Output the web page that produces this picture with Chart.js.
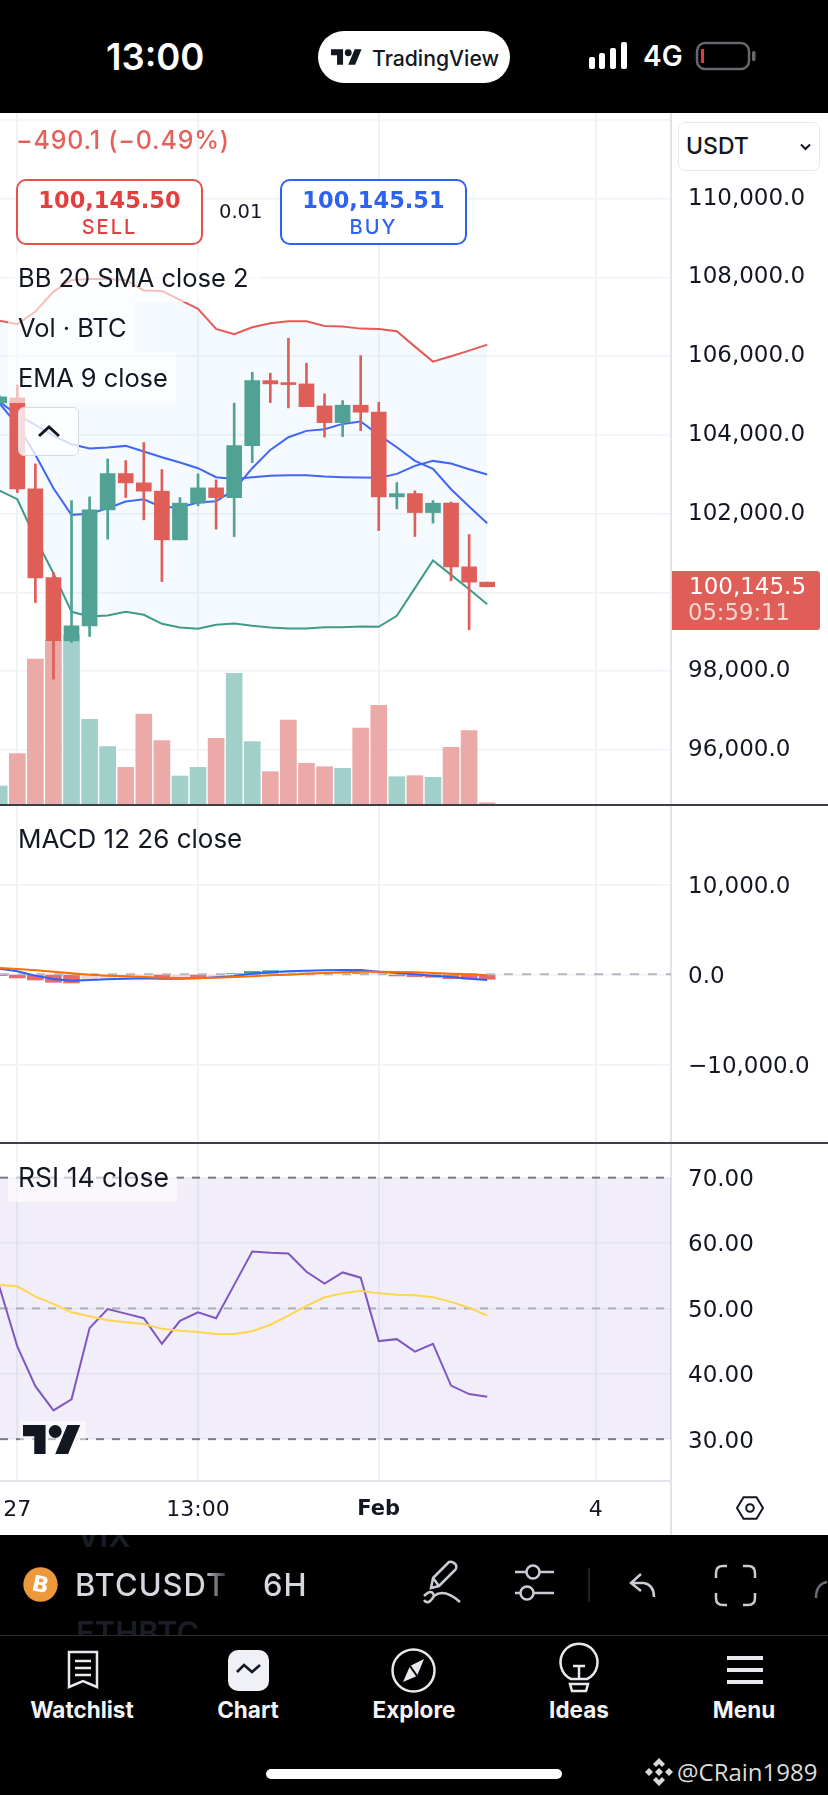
<!DOCTYPE html>
<html>
<head>
<meta charset="utf-8">
<title>BTCUSDT 6H</title>
<script src="https://cdn.jsdelivr.net/npm/chart.js@4/dist/chart.umd.min.js"></script>
<style>
  html, body { margin: 0; padding: 0; background: #000; }
  #page { position: relative; width: 828px; height: 1795px; overflow: hidden; background: #000; font-family: Inter, sans-serif; }
  #white { position: absolute; left: 0; top: 113px; width: 828px; height: 1422px; background: #fff; }
  canvas { position: absolute; left: 0; display: block; }
  .t { position: absolute; white-space: nowrap; color: #131722; }
  .box { position: absolute; box-sizing: border-box; }
  svg { position: absolute; overflow: visible; }
  .num { font-family: "DejaVu Sans", sans-serif; }
</style>
</head>
<body>
<div id="page">
  <div class="t" style="left:77px;top:1516px;line-height:40px;font-size:31px;font-weight:600;color:#1a1d26">VIX</div>
  <div id="white"></div>
  <canvas id="price-chart" width="828" height="692" style="top:113px"></canvas>
  <canvas id="macd-chart" width="828" height="338" style="top:805px"></canvas>
  <canvas id="rsi-chart" width="828" height="392" style="top:1143px"></canvas>

  <div class="box" style="left:0;top:804px;width:828px;height:2px;background:#3c3f47"></div>
  <div class="box" style="left:0;top:1142px;width:828px;height:2px;background:#3c3f47"></div>
  <div class="box" style="left:670px;top:1481px;width:2px;height:54px;background:#e0e3eb"></div>

  <!-- status bar -->
  <div class="t" style="left:106px;top:36px;line-height:42px;font-size:36.5px;font-weight:600;color:#fff">13:00</div>
  <div class="box" style="left:318px;top:31px;width:192px;height:52px;border-radius:26px;background:#fff"></div>
  <svg style="left:331px;top:49px" width="31" height="16" viewBox="0 4 36 18"><path d="M14 22H7V11H0V4h14v18zM28 22h-8l7.5-18h8L28 22z" fill="#131722"/><circle cx="20" cy="8" r="4" fill="#131722"/></svg>
  <div class="t" style="left:372px;top:42px;line-height:32px;font-size:21.2px;font-weight:500">TradingView</div>
  <svg style="left:589px;top:42px" width="40" height="28"><rect x="0" y="15" width="6" height="12" rx="2" fill="#fff"/><rect x="10" y="11" width="6" height="16" rx="2" fill="#fff"/><rect x="21" y="6" width="6" height="21" rx="2" fill="#fff"/><rect x="32" y="0" width="6" height="27" rx="2" fill="#fff"/></svg>
  <div class="t" style="left:643px;top:38px;line-height:36px;font-size:28px;font-weight:600;color:#fff">4G</div>
  <svg style="left:696px;top:42px" width="60" height="28"><rect x="1" y="1" width="52" height="26" rx="8" fill="none" stroke="#66686e" stroke-width="2.5"/><rect x="5" y="7" width="3" height="14" fill="#e8383d"/><rect x="56" y="9" width="3.5" height="10" rx="1.5" fill="#66686e"/></svg>

  <!-- header over the price pane -->
  <div class="t" style="left:16px;top:124px;line-height:32px;font-size:25px;font-weight:500;letter-spacing:.8px;color:#e5605a">−490.1 (−0.49%)</div>
  <div class="box" style="left:16px;top:179px;width:187px;height:66px;border:2px solid #e4504c;border-radius:10px;background:#fff"></div>
  <div class="t num" style="left:16px;top:185px;width:187px;text-align:center;line-height:30px;font-size:22.5px;font-weight:700;color:#e2403e">100,145.50</div>
  <div class="t" style="left:16px;top:214px;width:187px;text-align:center;line-height:26px;font-size:20px;font-weight:500;letter-spacing:2px;color:#e2403e">SELL</div>
  <div class="t num" style="left:219px;top:198px;line-height:28px;font-size:19.5px">0.01</div>
  <div class="box" style="left:280px;top:179px;width:187px;height:66px;border:2px solid #2e62f0;border-radius:10px;background:#fff"></div>
  <div class="t num" style="left:280px;top:185px;width:187px;text-align:center;line-height:30px;font-size:22.5px;font-weight:700;color:#2e62f0">100,145.51</div>
  <div class="t" style="left:280px;top:214px;width:187px;text-align:center;line-height:26px;font-size:20px;font-weight:500;letter-spacing:2px;color:#2e62f0">BUY</div>

  <!-- indicator titles -->
  <div class="box" style="left:8px;top:252px;width:252px;height:50px;background:rgba(255,255,255,.6)"></div>
  <div class="box" style="left:8px;top:302px;width:127px;height:50px;background:rgba(255,255,255,.6)"></div>
  <div class="box" style="left:8px;top:352px;width:168px;height:51px;background:rgba(255,255,255,.6)"></div>
  <div class="t" style="left:18px;top:262px;line-height:32px;font-size:25.5px">BB 20 SMA close 2</div>
  <div class="t" style="left:18px;top:312px;line-height:32px;font-size:25.4px">Vol · BTC</div>
  <div class="t" style="left:18px;top:362px;line-height:32px;font-size:25.4px">EMA 9 close</div>
  <div class="box" style="left:18px;top:407px;width:61px;height:49px;border:1.5px solid #d6d8de;border-radius:6px;background:rgba(255,255,255,.78)"></div>
  <svg style="left:37px;top:425px" width="24" height="14"><path d="M2 11 L12 2 L22 11" fill="none" stroke="#131722" stroke-width="3"/></svg>
  <div class="t" style="left:18px;top:823px;line-height:32px;font-size:26px">MACD 12 26 close</div>
  <div class="box" style="left:8px;top:1163px;width:169px;height:39px;background:rgba(255,255,255,.6)"></div>
  <div class="t" style="left:18px;top:1161px;line-height:32px;font-size:26.5px">RSI 14 close</div>
  <div class="box" style="left:20px;top:1421px;width:66px;height:34px;background:rgba(255,255,255,.5)"></div>
  <svg style="left:23px;top:1425px" width="58" height="29" viewBox="0 4 36 18"><path d="M14 22H7V11H0V4h14v18zM28 22h-8l7.5-18h8L28 22z" fill="#131722"/><circle cx="20" cy="8" r="4" fill="#131722"/></svg>

  <!-- right axis widgets -->
  <div class="box" style="left:678px;top:122px;width:142px;height:49px;border:1.5px solid #e6e8ef;border-radius:7px;background:#fff"></div>
  <div class="t" style="left:686px;top:130px;line-height:32px;font-size:23px;font-weight:500">USDT</div>
  <svg style="left:800px;top:143px" width="11" height="8"><path d="M1 1.5 L5.5 6 L10 1.5" fill="none" stroke="#131722" stroke-width="2"/></svg>
  <div class="box" style="left:672px;top:571px;width:148px;height:59px;border-radius:0 3px 3px 0;background:#e05e58"></div>
  <div class="t num" style="left:689px;top:571px;line-height:30px;font-size:23px;color:#fff">100,145.5</div>
  <div class="t num" style="left:688px;top:598px;line-height:28px;font-size:22.7px;color:#f6d5d2">05:59:11</div>
  <svg style="left:736px;top:1496px" width="28" height="24"><path d="M1 12 L7.5 1.2 H20.5 L27 12 L20.5 22.8 H7.5 Z" fill="none" stroke="#131722" stroke-width="2"/><circle cx="14" cy="12" r="3.8" fill="none" stroke="#131722" stroke-width="2"/></svg>

  <!-- symbol bar -->
  <svg style="left:23px;top:1567px" width="35" height="35"><circle cx="17.5" cy="17.5" r="17.2" fill="#ee983c"/><text x="17.5" y="25" text-anchor="middle" font-family="DejaVu Sans" font-weight="700" font-size="22" fill="#fff" transform="rotate(12 17.5 17.5)">B</text></svg>
  <div class="t" style="left:75px;top:1565px;line-height:40px;font-size:31px;font-weight:500;letter-spacing:1px;color:transparent;background:linear-gradient(90deg,#d6d8df 84%,#2a2a2e 100%);-webkit-background-clip:text;background-clip:text">BTCUSDT</div>
  <div class="t" style="left:263px;top:1565px;line-height:40px;font-size:31px;font-weight:500;letter-spacing:1px;color:#d6d8df">6H</div>
  <div class="t" style="left:76px;top:1613px;line-height:40px;font-size:31px;font-weight:600;color:#1a1d26">ETHBTC</div>
  <svg style="left:420px;top:1560px" width="230" height="50" fill="none" stroke="#c9ccd4" stroke-width="2.5">
    <path d="M13 18 L29 2 Q33 1 36 5 Q37 8 35 10 L19 26 L11 28 Z M13 18 L19 26"/>
    <path d="M4 36 Q12 28 14 36 Q8 46 4 40 M14 36 Q24 28 40 42" />
    <path d="M95 12 H106 M120 12 H134" />
    <circle cx="113" cy="12" r="6.5"/>
    <path d="M95 33 H100 M114 33 H134"/>
    <circle cx="107" cy="33" r="6.5"/>
  </svg>
  <div class="box" style="left:588px;top:1568px;width:2px;height:34px;background:#1e222d"></div>
  <svg style="left:628px;top:1572px" width="30" height="26" fill="none" stroke="#c9ccd4" stroke-width="2.5"><path d="M13 2 L3 11 L13 19 M3 11 H16 Q26 13 26 25"/></svg>
  <svg style="left:715px;top:1565px" width="42" height="42" fill="none" stroke="#c9ccd4" stroke-width="2.5"><path d="M1 13 V8 Q1 1 8 1 H12 M28 1 H33 Q40 1 40 8 V13 M1 28 V33 Q1 40 8 40 H12 M28 40 H33 Q40 40 40 33 V28"/></svg>
  <svg style="left:815px;top:1580px" width="13" height="20" fill="none" stroke="#6a6d75" stroke-width="2.5"><path d="M1 18 Q1 4 12 2"/></svg>

  <!-- bottom navigation -->
  <div class="box" style="left:0;top:1635px;width:828px;height:160px;background:#000;border-top:1px solid #2c2e33"></div>
  <svg style="left:67px;top:1650px" width="32" height="40" fill="none" stroke="#e8e9ee" stroke-width="2.5"><path d="M2 2 H30 V37 L16 31 L2 37 Z"/><path d="M8 11 H24 M8 18 H24 M8 25 H24"/></svg>
  <svg style="left:228px;top:1650px" width="41" height="41"><rect width="41" height="41" rx="10" fill="#f0f1f7"/><path d="M9 22 L16 15 L24 22 L32 15" fill="none" stroke="#131722" stroke-width="2.6"/></svg>
  <svg style="left:391px;top:1648px" width="45" height="45" fill="none" stroke="#e8e9ee" stroke-width="2.5"><circle cx="22.5" cy="22.5" r="21"/><path d="M33 11 L26 28 L12 34 L19 18 Z" fill="#e8e9ee" stroke="none"/><path d="M26 28 L19 18" stroke="#000" stroke-width="2"/></svg>
  <svg style="left:559px;top:1646px" width="40" height="48" fill="none" stroke="#e8e9ee" stroke-width="2.5"><path d="M12 33 A18.5 18.5 0 1 1 28 33 Z"/><path d="M14 20 H26 M20 20 V33"/><path d="M11 38 H29 L27 45 H13 Z"/></svg>
  <svg style="left:727px;top:1656px" width="36" height="30" fill="#e8e9ee"><rect x="0" y="0" width="36" height="4"/><rect x="0" y="12" width="36" height="4"/><rect x="0" y="24" width="36" height="4"/></svg>
  <div class="t" style="left:0;top:1695px;width:164px;text-align:center;line-height:30px;font-size:22.5px;font-weight:700;color:#f4f4f6">Watchlist</div>
  <div class="t" style="left:166px;top:1695px;width:164px;text-align:center;line-height:30px;font-size:22.5px;font-weight:700;color:#f4f4f6">Chart</div>
  <div class="t" style="left:332px;top:1695px;width:164px;text-align:center;line-height:30px;font-size:22.5px;font-weight:700;color:#f4f4f6">Explore</div>
  <div class="t" style="left:497px;top:1695px;width:164px;text-align:center;line-height:30px;font-size:22.5px;font-weight:700;color:#f4f4f6">Ideas</div>
  <div class="t" style="left:662px;top:1695px;width:164px;text-align:center;line-height:30px;font-size:22.5px;font-weight:700;color:#f4f4f6">Menu</div>
  <div class="box" style="left:266px;top:1769px;width:296px;height:10px;border-radius:5px;background:#fff"></div>
  <svg style="left:645px;top:1758px" width="28" height="28" fill="#d9d9d9"><path d="M14 0 L20 6 L17 9 L14 6 L11 9 L8 6 Z M14 28 L8 22 L11 19 L14 22 L17 19 L20 22 Z M0 14 L4 10 L8 14 L4 18 Z M28 14 L24 18 L20 14 L24 10 Z M14 10 L18 14 L14 18 L10 14 Z"/></svg>
  <div class="t" style="left:677px;top:1756px;line-height:32px;font-size:24px;font-family:'Open Sans',sans-serif;color:#dcdcdc">@CRain1989</div>
</div>

<script>
// bars run from -1 (cut off at the left edge) to 26, one 6H candle each
const opens =  [104812, 104939, 102630, 100378, 98772, 99153, 102097, 103018, 102782, 102571, 101335, 102267, 102655, 102409, 103729, 105378, 105328, 105295, 104736, 104312, 104754, 104576, 102427, 102510, 102028, 102267, 100650, 100262];
const highs =  [105000, 105269, 103264, 100505, 102333, 102427, 103391, 103348, 103805, 103120, 102409, 103010, 102858, 104805, 105591, 105566, 106454, 105820, 105041, 104871, 106013, 104830, 102790, 102579, 102333, 102292, 101470, 100262];
const lows =   [104750, 102536, 99744, 97800, 98729, 98881, 101353, 102409, 101843, 100277, 101335, 102198, 101607, 101419, 103297, 104820, 104685, 104718, 103942, 103957, 104109, 101571, 102122, 101419, 101759, 100295, 99051, 100142];
const closes = [104965, 102630, 100371, 98779, 99153, 102097, 103018, 102782, 102571, 101335, 102267, 102655, 102409, 103729, 105378, 105295, 105277, 104718, 104312, 104754, 104576, 102427, 102510, 102028, 102267, 100650, 100262, 100145];
const volumes = [190, 513, 1460, 1643, 1700, 857, 583, 377, 910, 643, 290, 377, 667, 1317, 633, 333, 850, 417, 383, 367, 770, 997, 283, 293, 277, 577, 743, 23];

const bbUpper = [106901, 106810, 107130, 107637, 107934, 107959, 107959, 107934, 107663, 107655, 107426, 107198, 106690, 106556, 106734, 106835, 106886, 106886, 106767, 106749, 106698, 106690, 106632, 106241, 105861, 105998, 106140, 106292];
const bbBasis = [104846, 104508, 104254, 103975, 103763, 103653, 103679, 103721, 103577, 103433, 103298, 103154, 102926, 102883, 102926, 102960, 102977, 102977, 102943, 102926, 102917, 102909, 103010, 103213, 103340, 103273, 103129, 102993];
const bbLower = [102587, 102367, 101378, 100489, 99508, 99390, 99415, 99508, 99432, 99203, 99110, 99076, 99178, 99212, 99153, 99110, 99085, 99085, 99119, 99119, 99136, 99127, 99406, 100109, 100811, 100447, 100083, 99702];
const ema9 =    [104804, 104254, 103493, 102647, 101970, 101995, 102139, 102308, 102367, 102164, 102164, 102283, 102317, 102604, 103154, 103619, 103941, 104102, 104144, 104279, 104339, 104000, 103687, 103340, 103137, 102621, 102181, 101758];

const macdLine =   [630, 333, -148, -519, -704, -630, -556, -482, -444, -482, -482, -444, -333, -185, 74, 222, 333, 407, 444, 482, 482, 296, 148, 0, -148, -296, -482, -630];
const macdSignal = [704, 593, 444, 296, 111, -37, -148, -222, -296, -370, -407, -407, -370, -296, -222, -111, -37, 74, 148, 222, 296, 296, 259, 222, 148, 74, 0, -111];
const macdHist =   [-150, -407, -630, -889, -963, -556, -480, -370, -296, -296, -259, -259, -222, 111, 333, 407, 333, 259, 185, 111, 111, 37, -185, -259, -333, -480, -519, -556];

const rsiLine = [53.4, 44.2, 38.1, 34.4, 36.1, 47.0, 49.9, 49.2, 48.5, 44.6, 48.1, 49.4, 48.5, 53.6, 58.7, 58.5, 58.4, 55.6, 53.8, 55.5, 54.7, 45.0, 45.3, 43.4, 44.6, 38.2, 36.9, 36.5];
const rsiMa =   [53.6, 53.4, 51.8, 50.7, 49.4, 48.8, 48.2, 47.9, 47.6, 46.9, 46.6, 46.4, 46.1, 46.1, 46.5, 47.5, 48.9, 50.4, 51.7, 52.3, 52.7, 52.3, 52.1, 52.0, 51.7, 51.0, 50.1, 48.9];

const priceTicks = [96000, 98000, 100000, 102000, 104000, 106000, 108000, 110000, 112000];
const macdTicks = [-10000, 0, 10000];
const rsiTicks = [30, 40, 50, 60, 70];
const timeTicks = [0, 10, 20, 32];
const timeLabels = ["27", "13:00", "Feb", "4"];

const RED = "#e05e58", GREEN = "#50a295";
const VOL_RED = "#eba9a7", VOL_GREEN = "#a1d0ca";
const GRID = "#f1f2f5";
const AXIS_FONT = "DejaVu Sans";
const xMin = -0.957, xMax = 36.17;

const points = (values) => values.map((y, i) => ({ x: i - 1, y }));
const flatLine = (y) => [{ x: xMin, y }, { x: xMax, y }];
const isUp = (i) => closes[i] >= opens[i];

function line(label, data, color, order, extra) {
  return { type: "line", label, data, borderColor: color, borderWidth: 2, pointRadius: 0, tension: 0, fill: false, order, ...extra };
}

function bars(label, data, colors, thickness, order, yAxisID) {
  return { type: "bar", label, data, backgroundColor: colors, barThickness: thickness, grouped: false, order, yAxisID: yAxisID || "y" };
}

function createPane(id, datasets, yMin, yMax, yTicks, yLabel, yLineHeight, extraScales, xOptions) {
  return new Chart(document.getElementById(id).getContext("2d"), {
    data: { datasets },
    options: {
      animation: false,
      responsive: false,
      devicePixelRatio: 1,
      layout: { padding: 0 },
      events: [],
      plugins: { legend: { display: false }, tooltip: { enabled: false } },
      scales: {
        x: {
          type: "linear",
          offset: false,
          min: xMin,
          max: xMax,
          grid: { color: GRID, lineWidth: 2, drawTicks: false, offset: false },
          border: { display: false },
          ticks: { display: false },
          afterBuildTicks: (s) => { s.ticks = timeTicks.map((value) => ({ value })); },
          afterFit: (s) => { s.height = 0; s.paddingLeft = 0; s.paddingRight = 0; },
          ...xOptions
        },
        y: {
          position: "right",
          min: yMin,
          max: yMax,
          grid: { color: GRID, lineWidth: 1.5, drawTicks: false },
          border: { color: "#e0e3eb", width: 2 },
          ticks: { color: "#131722", font: { family: AXIS_FONT, size: 23, lineHeight: yLineHeight }, padding: 17, callback: yLabel },
          afterBuildTicks: (s) => { s.ticks = yTicks.map((value) => ({ value })); },
          afterFit: (s) => { s.width = 157; s.paddingTop = 0; s.paddingBottom = 0; }
        },
        ...extraScales
      }
    }
  });
}

const oneDecimal = (v) => v.toLocaleString("en-US", { minimumFractionDigits: 1 }).replace("-", "−");
// a blank first line nudges the label down by half the line height, these panes sit on their grid lines
const nudged = (format) => (v) => ["", format(v)];

const priceChart = createPane("price-chart", [
  bars("Volume", volumes.map((y, i) => ({ x: i - 1, y })), volumes.map((_, i) => isUp(i) ? VOL_GREEN : VOL_RED), 16, 9, "vol"),
  line("BB upper", points(bbUpper), "#e55a55", 8, { fill: { target: 3 }, backgroundColor: "rgba(33,150,243,0.05)" }),
  line("BB basis", points(bbBasis), "#3f66f5", 7),
  line("BB lower", points(bbLower), "#3f9a88", 6),
  line("EMA 9", points(ema9), "#3f66f5", 5),
  bars("Wick", highs.map((h, i) => ({ x: i - 1, y: [lows[i], h] })), highs.map((_, i) => isUp(i) ? GREEN : RED), 2, 2),
  bars("Body", opens.map((o, i) => ({ x: i - 1, y: [o, closes[i]] })), opens.map((_, i) => isUp(i) ? GREEN : RED), 15, 1)
], 94604, 112172, priceTicks, (v) => (v === 112000 ? "" : oneDecimal(v)), 1.2, {
  vol: { display: false, min: 0, max: 6920 }
});

const macdChart = createPane("macd-chart", [
  bars("Histogram", points(macdHist), macdHist.map((v, i) => {
    const prev = i ? macdHist[i - 1] : 0;
    if (v >= 0) return v >= prev ? "#50a295" : "#c6e6e2";
    return v <= prev ? "#e8696a" : "#f8d5d2";
  }), 16, 5),
  line("Zero", flatLine(0), "#b6b8c0", 4, { borderDash: [9, 9] }),
  line("MACD", points(macdLine), "#2962ff", 2),
  line("Signal", points(macdSignal), "#ff6d00", 1)
], -18744, 18811, macdTicks, nudged(oneDecimal), "5px");

const rsiChart = createPane("rsi-chart", [
  line("Upper band", flatLine(70), "#787b86", 6, { borderDash: [8, 8], fill: { target: 1 }, backgroundColor: "rgba(126,87,194,0.1)" }),
  line("Lower band", flatLine(30), "#787b86", 5, { borderDash: [8, 8] }),
  line("Middle band", flatLine(50), "#adafb8", 4, { borderDash: [8, 8] }),
  line("RSI", points(rsiLine), "#7e57c2", 2),
  line("RSI MA", points(rsiMa), "#fdd650", 1)
], 23.6, 75.3, rsiTicks, nudged((v) => v.toFixed(2)), "5px", null, {
  border: { display: true, color: "#e0e3eb", width: 2 },
  ticks: {
    display: true,
    maxRotation: 0,
    autoSkip: false,
    padding: 16,
    color: "#131722",
    font: (c) => (c.tick && c.tick.value === 20 ? { family: AXIS_FONT, size: 21, weight: "700" } : { family: AXIS_FONT, size: 22 }),
    callback: (v) => timeLabels[timeTicks.indexOf(v)]
  },
  afterFit: (s) => { s.height = 54; s.paddingLeft = 0; s.paddingRight = 0; }
});
</script>
</body>
</html>
